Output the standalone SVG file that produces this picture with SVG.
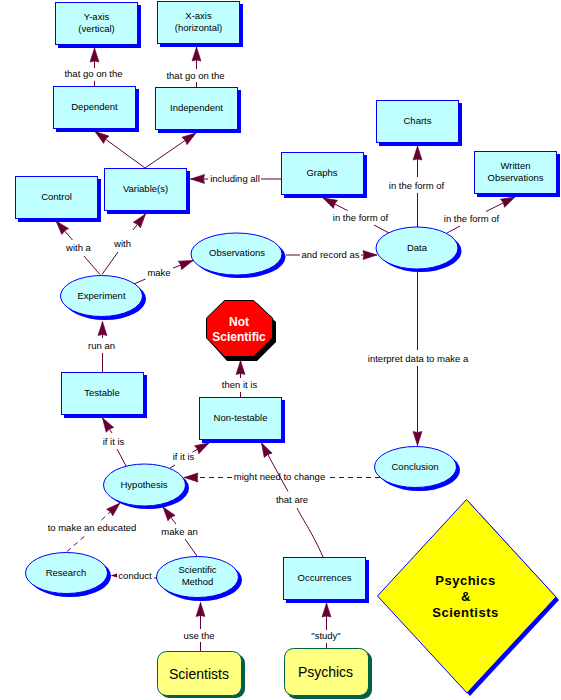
<svg xmlns="http://www.w3.org/2000/svg" width="561" height="700" viewBox="0 0 561 700">
<style>
text{font-family:"Liberation Sans",Arial,sans-serif;font-size:9.500px;fill:#000;text-anchor:middle}
.b{fill:#BFFFFF;stroke:#00F;stroke-width:1}
.s{fill:#00F;stroke:none}
.g{fill:#006048;stroke:none}
.y{fill:#FFFF80;stroke:#006048;stroke-width:1}
.c{stroke:#660033;stroke-width:1;fill:none}
.d{stroke-dasharray:5 4}
.a{marker-end:url(#h)}
.big{font-size:14px}
.bold{font-weight:bold;font-size:13px;letter-spacing:.5px}
.w{font-weight:bold;font-size:12px;fill:#fff}
</style>
<defs>
<marker id="h" markerUnits="userSpaceOnUse" markerWidth="16" markerHeight="12" refX="15" refY="6" orient="auto">
<path d="M15 6L1 1.500L2 6L1 10.500Z" fill="#660033" stroke="#660033" stroke-width=".6"/>
</marker>
</defs>
<rect width="561" height="700" fill="#fff"/>
<g id="connectors">
<line class="c" x1="94.500" y1="86" x2="94.500" y2="81"/><line class="c a" x1="94.500" y1="68" x2="94.500" y2="48"/><text x="93.500" y="77">that go on the</text>
<line class="c" x1="196.500" y1="87" x2="196.500" y2="82"/><line class="c a" x1="196.500" y1="69" x2="196.500" y2="47"/><text x="195.500" y="78.500">that go on the</text>
<line class="c a" x1="145" y1="168" x2="95" y2="131.500"/>
<line class="c a" x1="145" y1="168" x2="196" y2="133"/>
<line class="c a" x1="208" y1="179" x2="190.500" y2="179"/><line class="c" x1="261" y1="179" x2="281" y2="179"/><text x="235" y="181.500">including all</text>
<line class="c a" x1="417.500" y1="177" x2="417.500" y2="146"/><line class="c" x1="417.500" y1="193" x2="417.500" y2="227"/><text x="416.500" y="188.500">in the form of</text>
<line class="c" x1="389" y1="233" x2="374" y2="225"/><line class="c a" x1="347.500" y1="210.500" x2="323" y2="198"/><text x="360.500" y="220.500">in the form of</text>
<line class="c" x1="447" y1="233" x2="460" y2="226"/><line class="c a" x1="486" y1="211.500" x2="515" y2="197"/><text x="471.500" y="221.500">in the form of</text>
<line class="c" x1="286" y1="255" x2="300" y2="255"/><line class="c a" x1="361" y1="255" x2="377" y2="255"/><text x="330.500" y="257.500">and record as</text>
<line class="c" x1="417.500" y1="270" x2="417.500" y2="350"/><line class="c a" x1="417.500" y1="366" x2="417.500" y2="445.500"/><text x="418" y="361.500">interpret data to make a</text>
<line class="c" x1="100" y1="274.500" x2="84" y2="256"/><line class="c a" x1="72.500" y1="240" x2="56" y2="221"/><text x="78.500" y="250.500">with a</text>
<line class="c" x1="102" y1="274.500" x2="118" y2="252"/><line class="c a" x1="133" y1="230" x2="145.500" y2="214"/><text x="122.500" y="246.500">with</text>
<line class="c" x1="134" y1="284" x2="145.500" y2="279"/><line class="c a" x1="173" y1="268" x2="193" y2="260.500"/><text x="159" y="275.500">make</text>
<line class="c a" x1="102.500" y1="338" x2="102.500" y2="321.500"/><line class="c" x1="102.500" y1="353" x2="102.500" y2="372"/><text x="101.500" y="348.500">run an</text>
<line class="c" x1="126" y1="466" x2="117" y2="449"/><line class="c a" x1="112" y1="433" x2="102.500" y2="418"/><text x="113.500" y="444.500">if it is</text>
<line class="c" x1="170" y1="468" x2="175" y2="465"/><line class="c a" x1="192.500" y1="452" x2="209" y2="443"/><text x="183.500" y="460">if it is</text>
<line class="c a" x1="240.500" y1="378" x2="240.500" y2="360.500"/><line class="c" x1="240.500" y1="392" x2="240.500" y2="397"/><text x="239.500" y="387.500">then it is</text>
<path class="c" d="M323 557C312 532 304 522 297 508"/><line class="c a" x1="288" y1="491.500" x2="261.500" y2="443"/><text x="292" y="502.500">that are</text>
<line class="c d" x1="380" y1="477.500" x2="328" y2="477.500"/><line class="c d" x1="232" y1="477.500" x2="198" y2="477.500"/><line class="c a" x1="198" y1="477.500" x2="184" y2="477.500"/><text x="279.500" y="479.500">might need to change</text>
<line class="c d" x1="67" y1="551.500" x2="86" y2="535"/><line class="c d a" x1="101.500" y1="520" x2="120" y2="503"/><text x="92" y="530.500">to make an educated</text>
<line class="c" x1="197" y1="556" x2="185" y2="539"/><line class="c a" x1="176" y1="524" x2="163" y2="507"/><text x="179.500" y="534.500">make an</text>
<polygon points="110.500,575.500 117,573.500 117,577.500" fill="#660033"/><line class="c" x1="154" y1="578" x2="157" y2="578"/><text x="135" y="579">conduct</text>
<line class="c a" x1="200.500" y1="629" x2="200.500" y2="602.500"/><line class="c" x1="200.500" y1="642" x2="200.500" y2="651"/><text x="199" y="638.500">use the</text>
<line class="c a" x1="326.500" y1="630" x2="326.500" y2="603"/><line class="c" x1="326.500" y1="643" x2="326.500" y2="648"/><text x="326" y="638.500">"study"</text>
</g>
<g id="y-axis"><rect class="s" x="58" y="5" width="83" height="43"/><rect class="b" x="55.500" y="2.500" width="82" height="42"/><text x="96.500" y="19.500">Y-axis</text><text x="96.500" y="31.500">(vertical)</text></g>
<g id="x-axis"><rect class="s" x="160" y="4" width="83" height="43"/><rect class="b" x="157.500" y="1.500" width="82" height="42"/><text x="198.500" y="18.500">X-axis</text><text x="198.500" y="30.500">(horizontal)</text></g>
<g id="dependent"><rect class="s" x="56" y="89" width="83" height="43"/><rect class="b" x="53.500" y="86.500" width="82" height="42"/><text x="94.500" y="109.500">Dependent</text></g>
<g id="independent"><rect class="s" x="158" y="90" width="83" height="43"/><rect class="b" x="155.500" y="87.500" width="82" height="42"/><text x="196.500" y="110.500">Independent</text></g>
<g id="variables"><rect class="s" x="107" y="171" width="83" height="43"/><rect class="b" x="104.500" y="168.500" width="82" height="42"/><text x="145.500" y="191.500">Variable(s)</text></g>
<g id="control"><rect class="s" x="18" y="179" width="83" height="43"/><rect class="b" x="15.500" y="176.500" width="82" height="42"/><text x="56.500" y="199.500">Control</text></g>
<g id="charts"><rect class="s" x="379" y="103" width="83" height="43"/><rect class="b" x="376.500" y="100.500" width="82" height="42"/><text x="417.500" y="123.500">Charts</text></g>
<g id="graphs"><rect class="s" x="284" y="155" width="83" height="43"/><rect class="b" x="281.500" y="152.500" width="82" height="42"/><text x="322" y="175.500">Graphs</text></g>
<g id="written"><rect class="s" x="477" y="154" width="83" height="43"/><rect class="b" x="474.500" y="151.500" width="82" height="42"/><text x="515.500" y="168.500">Written</text><text x="515.500" y="180.500">Observations</text></g>
<g id="data"><ellipse class="s" cx="420.500" cy="251" rx="41" ry="21"/><ellipse class="b" cx="417" cy="248" rx="41" ry="21"/><text x="417" y="250.500">Data</text></g>
<g id="observations"><ellipse class="s" cx="240" cy="257" rx="45.500" ry="21"/><ellipse class="b" cx="236.500" cy="254" rx="45.500" ry="21"/><text x="237" y="256">Observations</text></g>
<g id="experiment"><ellipse class="s" cx="105" cy="299" rx="41" ry="21"/><ellipse class="b" cx="101.500" cy="296" rx="41" ry="20.500"/><text x="101.500" y="298.500">Experiment</text></g>
<g id="testable"><rect class="s" x="64" y="375" width="83" height="43"/><rect class="b" x="61.500" y="372.500" width="82" height="42"/><text x="102" y="395.500">Testable</text></g>
<g id="non-testable"><rect class="s" x="202" y="400" width="83" height="43"/><rect class="b" x="199.500" y="397.500" width="82" height="42"/><text x="240.500" y="420.500">Non-testable</text></g>
<g id="not-scientific"><polygon points="227,303 257,303 276,322 276,342 257,361 227,361 210,342 210,322" fill="#000"/><polygon points="224.500,300.500 253.500,300.500 272.500,318 272.500,338 253.500,356.500 224.500,356.500 206.500,338 206.500,318" fill="#F00" stroke="#000"/><text x="239" y="326" class="w">Not</text><text x="239" y="341" class="w">Scientific</text></g>
<g id="hypothesis"><ellipse class="s" cx="148" cy="488" rx="41" ry="21"/><ellipse class="b" cx="144.500" cy="485" rx="41" ry="21"/><text x="144" y="487.500">Hypothesis</text></g>
<g id="research"><ellipse class="s" cx="70" cy="576" rx="41" ry="21"/><ellipse class="b" cx="66.500" cy="573" rx="41" ry="20.500"/><text x="66" y="575.500">Research</text></g>
<g id="scientific-method"><ellipse class="s" cx="201" cy="580" rx="41" ry="21"/><ellipse class="b" cx="197.500" cy="577" rx="41" ry="20.500"/><text x="197.500" y="573">Scientific</text><text x="197.500" y="585">Method</text></g>
<g id="conclusion"><ellipse class="s" cx="419" cy="470" rx="41" ry="21"/><ellipse class="b" cx="415.500" cy="467" rx="41" ry="20.500"/><text x="415" y="469.500">Conclusion</text></g>
<g id="occurrences"><rect class="s" x="286" y="560" width="83" height="43"/><rect class="b" x="283.500" y="557.500" width="82" height="42"/><text x="324.500" y="580.500">Occurrences</text></g>
<g id="scientists"><rect class="g" x="160" y="654" width="85" height="44" rx="9"/><rect class="y" x="157.500" y="651.500" width="84" height="44" rx="9"/><text x="199" y="678.500" class="big">Scientists</text></g>
<g id="psychics"><rect class="g" x="287" y="651" width="85" height="48" rx="9"/><rect class="y" x="284.500" y="648.500" width="84" height="47" rx="9"/><text x="325.500" y="677" class="big">Psychics</text></g>
<g id="legend"><polygon points="381,599 470,503 559,600 470,696" fill="#00F"/><polygon points="377.500,596 466.500,499.500 556,597 467,693" fill="#FF0" stroke="#00F"/><text x="465.500" y="585" class="bold">Psychics</text><text x="466" y="601" class="bold">&amp;</text><text x="465.500" y="617" class="bold">Scientists</text></g>
</svg>
